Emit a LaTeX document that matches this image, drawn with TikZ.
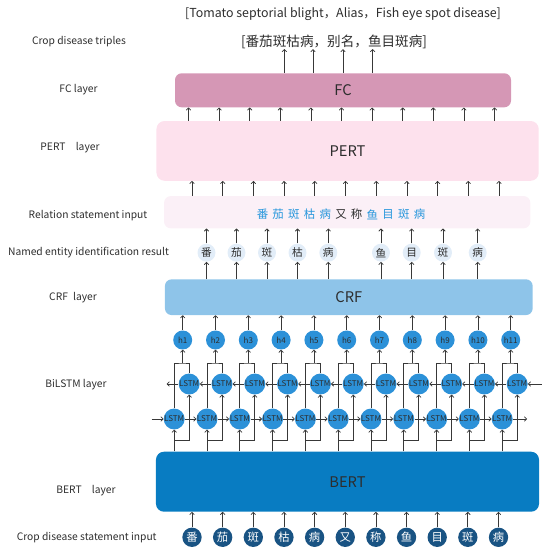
\documentclass[tikz,border=0pt]{standalone}
\usepackage{fontspec}
\setmainfont{Noto Sans CJK SC}
\usetikzlibrary{arrows.meta}

\definecolor{fcpink}{RGB}{213,151,181}
\definecolor{pertpink}{RGB}{253,225,237}
\definecolor{relpink}{RGB}{251,240,247}
\definecolor{crfblue}{RGB}{142,196,233}
\definecolor{bertblue}{RGB}{8,124,194}
\definecolor{lstmblue}{RGB}{44,145,216}
\definecolor{tokblue}{RGB}{25,83,131}
\definecolor{entblue}{RGB}{226,237,248}
\definecolor{wordblue}{RGB}{38,150,220}
\definecolor{inkgray}{RGB}{45,45,45}

\tikzset{
  arr/.style={draw=black!78, line width=0.55pt, -{To[length=2.2pt,width=3.8pt]}},
  wire/.style={draw=black!78, line width=0.55pt},
  layerbox/.style={rectangle, rounded corners=5pt, inner sep=0pt, font=\fontsize{11}{12}\selectfont, text=inkgray},
  lbl/.style={font=\fontsize{7.7}{9}\selectfont, text=inkgray, inner sep=0pt},
  cell/.style={circle, fill=lstmblue, inner sep=0pt, minimum size=14.25pt, font=\fontsize{6}{6}\selectfont, text=inkgray},
  tok/.style={circle, fill=tokblue, inner sep=0pt, minimum size=14.5pt, text=white, font=\fontsize{8.5}{9}\selectfont},
  ent/.style={circle, fill=entblue, inner sep=0pt, minimum size=13.5pt, text=inkgray, font=\fontsize{8}{9}\selectfont},
}

\begin{document}
\begin{tikzpicture}[x=0.75pt,y=0.75pt,yscale=-1,xscale=1]
\useasboundingbox (0,0) rectangle (547,550);

% Text Node
\node[font=\fontsize{9.3}{10}\selectfont, text=inkgray, inner sep=0pt] (eng) at (343,14) {[Tomato septorial blight，Alias，Fish eye spot disease]};
% Text Node
\node[font=\fontsize{10.2}{12}\selectfont, text=inkgray, inner sep=0pt] (trip) at (334,42) {[番茄斑枯病，别名，鱼目斑病]};

% Text Node (left column)
\node[lbl] (lbltrip) at (79,42) {Crop disease triples};
\node[lbl] (lblfc) at (78.5,90) {FC layer};
\node[lbl] (lblpert) at (70,148) {PERT\quad layer};
\node[lbl] (lblrel) at (88,215.7) {Relation statement input};
\node[lbl] (lblent) at (88.5,252.7) {Named entity identification result};
\node[lbl] (lblcrf) at (73,298) {CRF\enspace layer};
\node[lbl] (lbllstm) at (76,385) {BiLSTM layer};
\node[lbl] (lblbert) at (86,490.7) {BERT\quad layer};
\node[lbl] (lblin) at (86.7,537.3) {Crop disease statement input};

%Shape: layers
\node[layerbox, fill=fcpink, minimum width=252pt, minimum height=25.5pt] (fc) at (343,90.3) {FC};
\node[layerbox, fill=pertpink, rounded corners=6pt, minimum width=286.7pt, minimum height=44.8pt] (pert) at (347.6,150.9) {PERT};
\node[layerbox, fill=relpink, minimum width=274.7pt, minimum height=24.2pt] (rel) at (347.2,212.2) {};
\node[layerbox, fill=crfblue, minimum width=275.8pt, minimum height=26.8pt] (crf) at (348.8,297.2) {CRF};
\node[layerbox, fill=bertblue, rounded corners=6pt, minimum width=287.3pt, minimum height=45pt] (bert) at (347.5,481.7) {BERT};

% relation statement
\foreach \c/\col [count=\k from 0] in {番/wordblue,茄/wordblue,斑/wordblue,枯/wordblue,病/wordblue,又/inkgray,称/inkgray,鱼/wordblue,目/wordblue,斑/wordblue,病/wordblue}
  \node[font=\fontsize{8.6}{9}\selectfont, text=\col, inner sep=0pt] (w\k) at ({262.5+15.7*\k},214.5) {\c};

% named entities
\foreach \c/\x [count=\k] in {番/206.5,茄/236.5,斑/267,枯/297.5,病/328.3,鱼/381,目/411.7,斑/443,病/477.7}
  \node[ent] (e\k) at (\x,252.7) {\c};

% input tokens
\foreach \c [count=\k from 0] in {番,茄,斑,枯,病,又,称,鱼,目,斑,病}
  \node[tok] (in\k) at ({192+30.65*\k},537.3) {\c};

% BiLSTM cells
\foreach \i in {1,...,11}{
  \pgfmathsetmacro\hx{182.7+32.8*(\i-1)}
  \node[cell] (h\i) at (\hx,340) {h\i};
  \node[cell] (b\i) at (\hx+6.5,384) {LSTM};
  \node[cell] (f\i) at (\hx-8.5,419) {LSTM};
  \coordinate (t\i) at (\hx,363);
  \coordinate (s\i) at (\hx-8.5,440);
}
\coordinate (fin) at (151.7,419);
\coordinate (fout) at (527,419);
\coordinate (bin) at (541.7,384);
\coordinate (bout) at (166.7,384);

%Straight Lines
\foreach \i in {1,...,11}{
  \draw[wire] (f\i.north) |- (t\i) -| (b\i.north);
  \draw[arr] (t\i) -- (h\i);
  \draw[arr] (bert.north -| f\i) -- (f\i);
  \draw[arr] (s\i) -| (b\i.south);
  \draw[arr] (h\i) -- (crf.south -| h\i);
}
\foreach \i [evaluate=\i as \j using int(\i+1)] in {1,...,10}{
  \draw[arr] (f\i) -- (f\j);
  \draw[arr] (b\j) -- (b\i);
}
\draw[arr] (fin) -- (f1);
\draw[arr] (f11) -- (fout);
\draw[arr] (bin) -- (b11);
\draw[arr] (b1) -- (bout);

%Straight Lines (between layers)
\foreach \k in {0,...,10}{
  \pgfmathsetmacro\xa{188.5+30.6*\k}
  \pgfmathsetmacro\xb{192+30.7*\k}
  \draw[arr] (pert.north -| \xa,0) -- (fc.south -| \xa,0);
  \draw[arr] (rel.north -| \xb,0) -- (pert.south -| \xb,0);
  \draw[arr] (in\k) -- (bert.south -| in\k);
}
\foreach \k in {1,...,9}{
  \draw[arr] (crf.north -| e\k) -- (e\k);
  \draw[arr] (e\k) -- (rel.south -| e\k);
}
\foreach \x in {284.4,313,343,372.6}
  \draw[arr] (fc.north -| \x,0) -- (trip.south -| \x,0);

\end{tikzpicture}
\end{document}
